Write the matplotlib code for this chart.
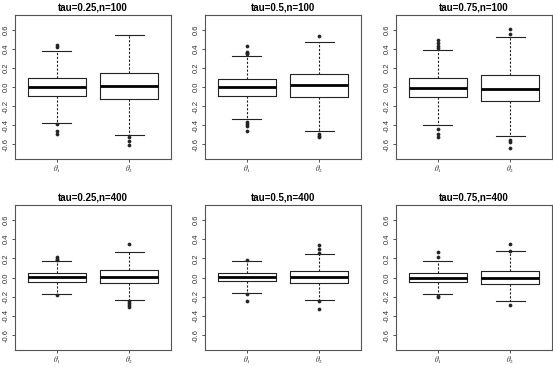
import matplotlib
matplotlib.use("Agg")
import matplotlib.pyplot as plt

plt.rcParams['font.family'] = ['Liberation Sans', 'DejaVu Sans']
plt.rcParams['mathtext.fontset'] = 'stix'

# panel titles, row-major
titles = ['tau=0.25,n=100', 'tau=0.5,n=100', 'tau=0.75,n=100',
          'tau=0.25,n=400', 'tau=0.5,n=400', 'tau=0.75,n=400']
params = [r'$\theta_1$', r'$\theta_2$']

# box statistics per panel: [theta1, theta2]
med = [[0.0, 0.007], [0.0, 0.025], [-0.007, -0.021],
       [0.004, 0.007], [0.004, 0.004], [0.0, -0.003]]
q1 = [[-0.098, -0.123], [-0.09, -0.109], [-0.105, -0.144],
      [-0.042, -0.053], [-0.039, -0.06], [-0.042, -0.07]]
q3 = [[0.098, 0.144], [0.08, 0.137], [0.098, 0.123],
      [0.046, 0.074], [0.049, 0.067], [0.049, 0.07]]
whislo = [[-0.382, -0.509], [-0.34, -0.46], [-0.396, -0.519],
          [-0.175, -0.235], [-0.158, -0.235], [-0.175, -0.249]]
whishi = [[0.382, 0.55], [0.33, 0.477], [0.393, 0.526],
          [0.172, 0.267], [0.175, 0.249], [0.175, 0.277]]
fliers = [
    [[0.44, 0.42, -0.39, -0.46, -0.49], [-0.53, -0.565, -0.61]],
    [[0.435, 0.37, 0.36, 0.35, -0.37, -0.39, -0.41, -0.46], [0.537, -0.495, -0.51, -0.53]],
    [[0.498, 0.463, 0.435, 0.407, -0.44, -0.495, -0.52], [0.604, 0.554, -0.558, -0.582, -0.642]],
    [[0.214, 0.19, 0.18, -0.18], [0.354, -0.25, -0.27, -0.29, -0.305]],
    [[0.186, -0.168, -0.249], [0.337, 0.302, 0.253, -0.249, -0.33]],
    [[0.267, 0.214, -0.19, -0.207], [0.354, 0.277, -0.284]],
]
yticks = [-0.6, -0.4, -0.2, 0.0, 0.2, 0.4, 0.6]

W, H = 553, 367
fig = plt.figure(figsize=(W / 100, H / 100), dpi=100)

lefts = [15, 205, 396]
rows = [(15, 159), (205, 350)]
aw = 156

for k in range(6):
    r, c = divmod(k, 3)
    top, bot = rows[r]
    ax = fig.add_axes([lefts[c] / W, 1 - bot / H, aw / W, (bot - top) / H])

    stats = []
    for j in range(2):
        stats.append(dict(med=med[k][j], q1=q1[k][j], q3=q3[k][j],
                          whislo=whislo[k][j], whishi=whishi[k][j],
                          fliers=fliers[k][j]))
    ax.bxp(stats, positions=[1, 2], widths=0.8, capwidths=0.4,
           boxprops=dict(color='#222222', lw=0.8),
           medianprops=dict(color='black', lw=2.0),
           whiskerprops=dict(color='#222222', lw=0.8, linestyle=(0, (2, 1.5))),
           capprops=dict(color='#222222', lw=0.8),
           flierprops=dict(marker='o', ms=2.2, mfc='#222222', mec='#222222', mew=0.5))

    ax.set_xlim(0.42, 2.58)
    ax.set_ylim(-0.756, 0.756)
    ax.set_xticks([1, 2])
    ax.set_xticklabels(params, fontsize=5.5)
    ax.set_yticks(yticks)
    ax.set_yticklabels([f'{v:.1f}' for v in yticks], rotation=90, va='center', fontsize=5.5)
    ax.tick_params(axis='y', length=2.5, width=0.6, pad=1.5, colors='#333333')
    ax.tick_params(axis='x', length=2.5, width=0.6, pad=1.2, colors='#333333')
    for s in ax.spines.values():
        s.set_color('#555555')
        s.set_linewidth(0.8)
    ax.set_title(titles[k], fontsize=7, fontweight='bold', pad=3)

fig.savefig('out.png', dpi=100)
